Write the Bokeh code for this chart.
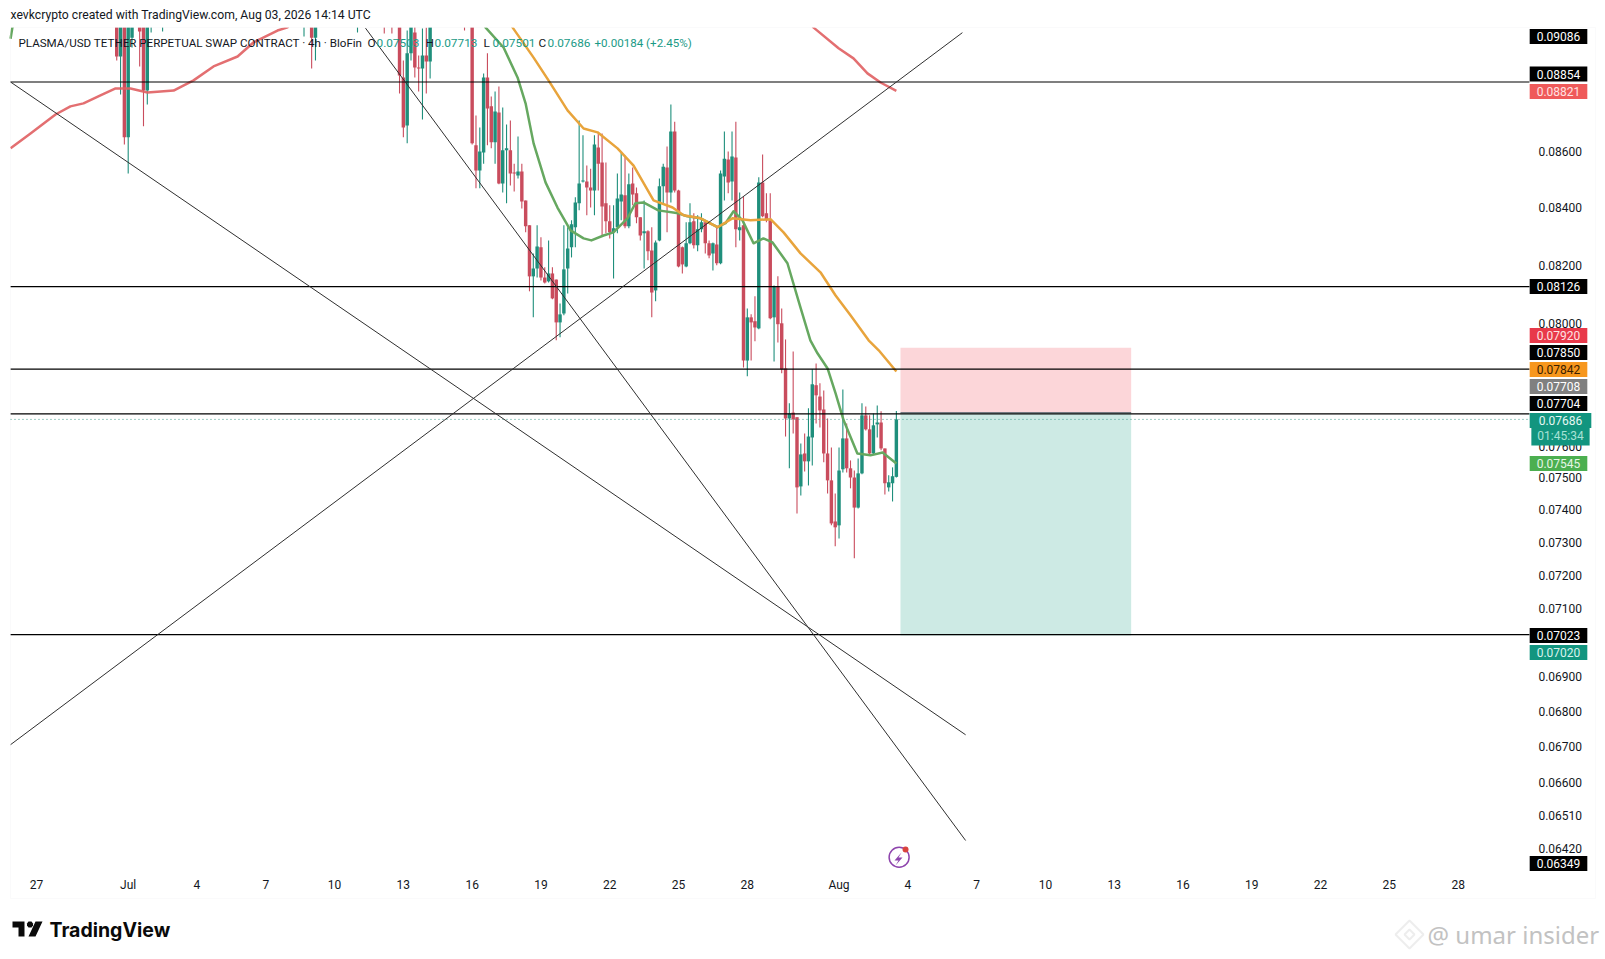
from bokeh.plotting import figure
from bokeh.models import (Range1d, FixedTicker, PrintfTickFormatter, Label, BoxAnnotation,
                          PolyAnnotation, ColumnDataSource)
from bokeh.embed import file_html
from bokeh.resources import INLINE

# ---- data -------------------------------------------------------------
# days are counted from 1 July (0 = 1 Jul, 31 = 1 Aug)
date_ticks = [-4, 0, 3, 6, 9, 12, 15, 18, 21, 24, 27, 31, 34, 37, 40, 43, 46, 49, 52, 55, 58]
date_labels = ["27", "Jul", "4", "7", "10", "13", "16", "19", "22", "25", "28", "Aug", "4", "7", "10", "13", "16", "19", "22", "25", "28"]
price_ticks = [0.086, 0.084, 0.082, 0.080, 0.076, 0.075, 0.074, 0.073, 0.072, 0.071, 0.069, 0.068, 0.067, 0.066, 0.0651, 0.0642]

early_days = [-0.5, -0.333, -0.167, 0.0, 0.167, 0.5, 0.667, 0.833, 1.0, 1.5,
              7.667, 8.0, 8.167, 10.0, 11.167, 11.5,
              11.833, 12.0, 12.167, 12.333, 12.5, 12.667, 12.833, 13.0, 13.167, 14.667]
early_open = [0.0920, 0.08949, 0.0920, 0.08651, 0.09020, 0.0920, 0.0915, 0.08822, 0.0912, 0.0912,
              0.0912, 0.0920, 0.09020, 0.0912, 0.0920, 0.0920,
              0.0915, 0.08871, 0.08694, 0.08961, 0.09040, 0.08908, 0.08904, 0.08953, 0.08930, 0.0920]
early_high = [0.0925, 0.0925, 0.0930, 0.0930, 0.0925, 0.0925, 0.0925, 0.0925, 0.0925, 0.0925,
              0.0925, 0.0925, 0.0925, 0.0925, 0.0925, 0.0925,
              0.0918, 0.08934, 0.09047, 0.0925, 0.09085, 0.08953, 0.09055, 0.09059, 0.0915, 0.0925]
early_low = [0.08934, 0.08808, 0.08625, 0.08521, 0.08983, 0.08912, 0.08691, 0.08771, 0.09040, 0.09043,
             0.09024, 0.08904, 0.08934, 0.09040, 0.09036, 0.09036,
             0.08811, 0.08651, 0.08629, 0.08934, 0.08871, 0.08819, 0.08716, 0.08811, 0.08867, 0.09047]
early_close = [0.08949, 0.0915, 0.08651, 0.0920, 0.0915, 0.09043, 0.08822, 0.0915, 0.0918, 0.0918,
               0.0918, 0.09020, 0.0915, 0.0918, 0.0912, 0.0912,
               0.08878, 0.08687, 0.08961, 0.0915, 0.08908, 0.08904, 0.08953, 0.08930, 0.09085, 0.0912]

# 4h bars from 16 Jul 00:00 to 3 Aug 12:00
bar_high = [0.09150, 0.08730, 0.08687, 0.08886, 0.08961, 0.08800, 0.08819, 0.08837, 0.08760, 0.08698,
            0.08712, 0.08556, 0.08654, 0.08556, 0.08425, 0.08338, 0.08240, 0.08338, 0.08296, 0.08192,
            0.08285, 0.08192, 0.08150, 0.08069, 0.08338, 0.08331, 0.08355, 0.08436, 0.08712, 0.08658,
            0.08549, 0.08538, 0.08658, 0.08665, 0.08665, 0.08560, 0.08408, 0.08408, 0.08521, 0.08596,
            0.08585, 0.08521, 0.08542, 0.08471, 0.08366, 0.08425, 0.08320, 0.08331, 0.08285, 0.08503,
            0.08556, 0.08618, 0.08771, 0.08708, 0.08463, 0.08264, 0.08348, 0.08415, 0.08380, 0.08373,
            0.08380, 0.08348, 0.08285, 0.08278, 0.08331, 0.08531, 0.08672, 0.08600, 0.08672, 0.08708,
            0.08453, 0.08439, 0.08052, 0.08032, 0.08093, 0.08507, 0.08589, 0.08450, 0.08450, 0.08130,
            0.08161, 0.08052, 0.07948, 0.07738, 0.07908, 0.07693, 0.07609, 0.07641, 0.07722, 0.07849,
            0.07868, 0.07803, 0.07780, 0.07689, 0.07596, 0.07451, 0.07596, 0.07783, 0.07673, 0.07555,
            0.07523, 0.07561, 0.07738, 0.07728, 0.07699, 0.07705, 0.07731, 0.07712, 0.07593, 0.07508,
            0.07533, 0.07713]
bar_open = [0.09100, 0.08622, 0.08531, 0.08596, 0.08871, 0.08764, 0.08633, 0.08741, 0.08485, 0.08604,
            0.08604, 0.08524, 0.08514, 0.08528, 0.08425, 0.08338, 0.08161, 0.08188, 0.08261, 0.08157,
            0.08144, 0.08171, 0.08150, 0.08005, 0.08035, 0.08188, 0.08261, 0.08331, 0.08415, 0.08492,
            0.08492, 0.08471, 0.08460, 0.08614, 0.08560, 0.08415, 0.08352, 0.08313, 0.08331, 0.08421,
            0.08443, 0.08334, 0.08485, 0.08450, 0.08366, 0.08310, 0.08317, 0.08250, 0.08113, 0.08285,
            0.08475, 0.08542, 0.08453, 0.08672, 0.08460, 0.08261, 0.08195, 0.08275, 0.08352, 0.08268,
            0.08324, 0.08348, 0.08275, 0.08240, 0.08271, 0.08206, 0.08510, 0.08571, 0.08492, 0.08578,
            0.08320, 0.08338, 0.07878, 0.08022, 0.08009, 0.07985, 0.08489, 0.08380, 0.08355, 0.08022,
            0.08127, 0.08002, 0.07852, 0.07689, 0.07708, 0.07693, 0.07473, 0.07577, 0.07552, 0.07628,
            0.07797, 0.07760, 0.07718, 0.07577, 0.07492, 0.07364, 0.07352, 0.07527, 0.07625, 0.07530,
            0.07501, 0.07407, 0.07514, 0.07699, 0.07654, 0.07577, 0.07670, 0.07676, 0.07593, 0.07470,
            0.07483, 0.07503]
bar_close = [0.08629, 0.08531, 0.08600, 0.08871, 0.08756, 0.08633, 0.08745, 0.08485, 0.08604, 0.08611,
             0.08521, 0.08521, 0.08528, 0.08421, 0.08334, 0.08161, 0.08188, 0.08264, 0.08157, 0.08140,
             0.08171, 0.08086, 0.08005, 0.08032, 0.08185, 0.08257, 0.08341, 0.08418, 0.08485, 0.08496,
             0.08471, 0.08460, 0.08625, 0.08556, 0.08404, 0.08352, 0.08313, 0.08327, 0.08432, 0.08446,
             0.08334, 0.08482, 0.08446, 0.08366, 0.08302, 0.08317, 0.08247, 0.08106, 0.08278, 0.08475,
             0.08545, 0.08453, 0.08672, 0.08460, 0.08195, 0.08202, 0.08275, 0.08348, 0.08268, 0.08324,
             0.08348, 0.08275, 0.08233, 0.08275, 0.08206, 0.08521, 0.08574, 0.08489, 0.08582, 0.08324,
             0.08331, 0.07878, 0.08022, 0.08005, 0.07988, 0.08489, 0.08369, 0.08355, 0.08019, 0.08127,
             0.07999, 0.07849, 0.07689, 0.07705, 0.07686, 0.07470, 0.07574, 0.07552, 0.07631, 0.07800,
             0.07764, 0.07715, 0.07577, 0.07492, 0.07358, 0.07346, 0.07523, 0.07625, 0.07530, 0.07501,
             0.07407, 0.07514, 0.07699, 0.07654, 0.07577, 0.07667, 0.07676, 0.07593, 0.07483, 0.07486,
             0.07505, 0.07686]
bar_low = [0.08625, 0.08468, 0.08468, 0.08556, 0.08622, 0.08611, 0.08556, 0.08482, 0.08453, 0.08415,
           0.08478, 0.08457, 0.08503, 0.08397, 0.08313, 0.08110, 0.08022, 0.08157, 0.08147, 0.08137,
           0.08140, 0.08083, 0.07945, 0.07955, 0.08029, 0.08103, 0.08226, 0.08261, 0.08390, 0.08489,
           0.08373, 0.08400, 0.08373, 0.08460, 0.08302, 0.08310, 0.08292, 0.08154, 0.08310, 0.08355,
           0.08327, 0.08327, 0.08408, 0.08345, 0.08285, 0.08188, 0.08216, 0.08022, 0.08076, 0.08282,
           0.08415, 0.08313, 0.08418, 0.08453, 0.08192, 0.08171, 0.08192, 0.08272, 0.08257, 0.08247,
           0.08313, 0.08240, 0.08223, 0.08181, 0.08199, 0.08203, 0.08425, 0.08450, 0.08425, 0.08261,
           0.08285, 0.07855, 0.07826, 0.07878, 0.07942, 0.07982, 0.08366, 0.08348, 0.08016, 0.07875,
           0.07938, 0.07836, 0.07631, 0.07530, 0.07641, 0.07389, 0.07445, 0.07520, 0.07476, 0.07539,
           0.07673, 0.07660, 0.07549, 0.07451, 0.07352, 0.07288, 0.07312, 0.07517, 0.07517, 0.07467,
           0.07251, 0.07404, 0.07511, 0.07650, 0.07571, 0.07574, 0.07628, 0.07587, 0.07448, 0.07457,
           0.07426, 0.07501]

ema_red_days = [-5.13, -4.26, -3.17, -2.52, -1.95, -1.21, -0.55, 0.10, 0.84, 1.98, 2.85, 3.72, 4.77, 5.46, 6.51, 6.95,
                7.5, 10, 20, 28, 29.5, 29.88, 30.98, 31.63, 32.24, 32.81, 33.5]
ema_red = [0.08611, 0.08665, 0.08734, 0.08764, 0.08775, 0.08804, 0.08830, 0.08830, 0.08815, 0.08822, 0.08860, 0.08912,
           0.08949, 0.09002, 0.09047, 0.09059, 0.0915, 0.0940, 0.0960, 0.0935, 0.0912, 0.09059, 0.08980, 0.08942,
           0.08886, 0.08852, 0.08821]
ema_green_days = [-5.13, -5.05, -4.5, 5, 14.5, 15.2, 15.58, 16.37, 16.98, 17.33, 17.68, 18.2, 18.72, 19.29, 19.86, 20.2,
                  20.73, 21.16, 21.77, 22.12, 22.47, 23.12, 23.99, 24.38, 24.96, 25.7, 26.05, 26.4, 26.79, 27.27,
                  27.7, 28.1, 28.75, 29.32, 29.75, 30.06, 30.5, 30.85, 31.2, 31.8, 32.37, 32.9, 33.5]
ema_green = [0.09016, 0.09059, 0.0925, 0.0990, 0.0930, 0.0915, 0.09059, 0.08983, 0.08871, 0.08775, 0.08629, 0.08489,
             0.08400, 0.08320, 0.08292, 0.08285, 0.08302, 0.08313, 0.08362, 0.08415, 0.08418, 0.08390, 0.08380,
             0.08369, 0.08362, 0.08331, 0.08345, 0.08387, 0.08355, 0.08275, 0.08292, 0.08278, 0.08206, 0.08055,
             0.07945, 0.07902, 0.07852, 0.07770, 0.07683, 0.07577, 0.07571, 0.07580, 0.07545]
ema_orange_days = [16.2, 16.76, 17.68, 18.33, 19.16, 19.86, 20.47, 21.34, 22.04, 22.91, 23.74, 24.22, 24.96, 25.7, 26.35,
                   27.14, 28.01, 28.58, 29.32, 30.19, 30.85, 31.5, 32.29, 32.73, 33.5]
ema_orange = [0.0925, 0.09059, 0.08945, 0.08860, 0.08749, 0.08683, 0.08669, 0.08611, 0.08549, 0.08425, 0.08400, 0.08373,
              0.08362, 0.08331, 0.08362, 0.08355, 0.08359, 0.08313, 0.08240, 0.08175, 0.08096, 0.08029, 0.07945,
              0.07912, 0.07842]

level_prices = [0.08854, 0.08126, 0.07850, 0.07704, 0.07023]
last_price = 0.07686
pane_left, pane_right, pane_top, pane_bottom = -5.133, 61.11, 0.09059, 0.06362
trend_days = [[-5.133, 36.38], [-5.133, 36.52], [10.35, 36.52]]
trend_prices = [[0.06706, 0.09039], [0.08854, 0.06734], [0.09056, 0.06442]]
pos_left, pos_right = 33.68, 43.74
pos_stop, pos_entry, pos_target = 0.07920, 0.07708, 0.07020

# price tags on the scale: text, fill, text colour, shown centre (page px)
tag_text = ["0.09086", "0.08854", "0.08821", "0.08126", "0.07920", "0.07850", "0.07842", "0.07708", "0.07704", "0.07545", "0.07023", "0.07020", "0.06349"]
tag_fill = ["#000000", "#000000", "#ef5a5a", "#000000", "#e8394a", "#000000", "#f7971e", "#808080", "#000000", "#4caf50", "#000000", "#12957f", "#000000"]
tag_color = ["#ffffff", "#ffffff", "#ffe3e3", "#ffffff", "#ffe3e3", "#ffffff", "#3a2000", "#ffffff", "#ffffff", "#e6f6e6", "#ffffff", "#d8f3ee", "#ffffff"]
tag_y = [36, 73.5, 91, 286, 335, 352, 369, 386, 403, 463, 635, 652, 863]

# ---- figure: the frame fills the canvas, the axes are pinned inside it ---
W, H = 1600, 955
sx = lambda X: X
sy = lambda Y: H - Y
# values above the visible pane are held just under the canvas top, behind the white strip
cap = lambda vals: [min(v, 0.0914) for v in vals]

p = figure(width=W, height=H, x_range=Range1d(-5.5691, 64.208), y_range=Range1d(0.061388, 0.091617),
           y_axis_type="log", y_axis_location="right", toolbar_location=None, output_backend="svg",
           background_fill_color="white", border_fill_color="white")
p.min_border_left = p.min_border_right = p.min_border_top = p.min_border_bottom = 0
p.outline_line_color = None
p.grid.visible = False

p.xaxis.ticker = FixedTicker(ticks=date_ticks)
p.xaxis.major_label_overrides = dict(zip(date_ticks, date_labels))
p.yaxis.ticker = FixedTicker(ticks=price_ticks)
p.yaxis.formatter = PrintfTickFormatter(format="%.5f")
for ax in (p.xaxis[0], p.yaxis[0]):
    ax.axis_line_color = None
    ax.major_tick_line_color = None
    ax.minor_tick_line_color = None
    ax.major_tick_out = 0
    ax.major_tick_in = 0
    ax.major_label_text_font = "Roboto"
    ax.major_label_text_font_size = "12px"
    ax.major_label_text_color = "#131722"
p.xaxis[0].major_label_standoff = 8
p.yaxis[0].major_label_standoff = 9
p.xaxis[0].fixed_location = pane_bottom
p.yaxis[0].fixed_location = pane_right

# position box
p.quad(left=[pos_left], right=[pos_right], top=[pos_stop], bottom=[pos_entry], fill_color="#fcd6d9", line_color=None)
p.quad(left=[pos_left], right=[pos_right], top=[pos_entry], bottom=[pos_target], fill_color="#cdeae4", line_color=None)
p.segment(x0=[pos_left], x1=[pos_right], y0=[pos_entry], y1=[pos_entry], line_color="#6b6f78", line_width=1)

# candles
days = early_days + [15 + i / 6 for i in range(len(bar_open))]
o = early_open + bar_open
h = early_high + bar_high
l = early_low + bar_low
c = early_close + bar_close
colors = ["#1f8f7c" if ci >= oi else "#c94c5d" for oi, ci in zip(o, c)]
src = ColumnDataSource(dict(x=days, l=l, h=cap(h), top=cap([max(a, b) for a, b in zip(o, c)]),
                            bottom=cap([min(a, b) for a, b in zip(o, c)]), color=colors))
p.segment(x0="x", x1="x", y0="l", y1="h", line_color="color", line_width=1.1, source=src)
p.vbar(x="x", width=0.15, top="top", bottom="bottom", fill_color="color", line_color=None, source=src)

# moving averages
p.line(ema_red_days, cap(ema_red), line_color="#e05f62", line_width=2.5, line_alpha=0.9, line_join="round")
p.line(ema_green_days, cap(ema_green), line_color="#66a860", line_width=2.5, line_join="round")
p.line(ema_orange_days, cap(ema_orange), line_color="#e8a43c", line_width=2.5, line_join="round")

# levels and trend lines
p.segment(x0=[pane_left] * 5, x1=[pane_right] * 5, y0=level_prices, y1=level_prices, line_color="#000000", line_width=1.2)
p.segment(x0=[pane_left], x1=[pane_right], y0=[last_price], y1=[last_price], line_color="#3f9c8b", line_width=1, line_dash="1 3")
for xs, ys in zip(trend_days, trend_prices):
    p.line(xs, ys, line_color="#2f2f2f", line_width=1)

# what rises above the pane stops at its top edge
p.quad(left=[-10], right=[70], top=[0.1], bottom=[pane_top], fill_color="white", line_color=None)

# pane border
p.add_layout(BoxAnnotation(left=sx(10), right=sx(1595), top=sy(27), bottom=sy(898), left_units="screen",
                           right_units="screen", top_units="screen", bottom_units="screen",
                           fill_alpha=0, line_color="#eef0f3", line_width=1))

def label(X, Y, text, color="#131722", size="12px", font="Roboto", align="left", style="normal", **kw):
    p.add_layout(Label(x=sx(X), y=sy(Y), x_units="screen", y_units="screen", text=text, text_color=color,
                       text_font=font, text_font_size=size, text_align=align, text_baseline="middle",
                       text_font_style=style, **kw))

label(10, 14.5, "xevkcrypto created with TradingView.com, Aug 03, 2026 14:14 UTC", size="12.2px")
label(18, 42, "PLASMA/USD TETHER PERPETUAL SWAP CONTRACT · 4h · BloFin", size="11.6px")
teal = "#1a9a86"
for X, letter, val in [(367, "O", "0.07503"), (425, "H", "0.07713"), (483, "L", "0.07501"), (538, "C", "0.07686")]:
    label(X, 42, letter, size="11.8px")
    label(X + 9, 42, val, color=teal, size="11.8px")
label(594, 42, "+0.00184 (+2.45%)", color=teal, size="11.6px")

# axis tags
for t, f, col, Y in zip(tag_text, tag_fill, tag_color, tag_y):
    label(1558, Y, t, color=col, align="center", background_fill_color=f, padding=(7, 3))
label(1560, 420, "0.07686", color="#e6f7f3", align="center", background_fill_color="#12957f", padding=(9, 3))
label(1560, 435, "01:45:34", color="#a9e2d6", align="center", background_fill_color="#12957f", padding=(6, 3))

# event icon
p.scatter([33.62], [0.06397], marker="circle", size=20, fill_color=None, line_color="#8e44ad", line_width=1.5)
p.scatter([33.9], [0.06418], marker="circle", size=6, fill_color="#d9443f", line_color=None)

def poly(points, **kw):
    p.add_layout(PolyAnnotation(xs=[sx(a) for a, _ in points], ys=[sy(b) for _, b in points], xs_units="screen",
                                ys_units="screen", **kw))
poly([(901, 852), (894, 860), (898, 860), (895, 865), (902, 857), (898, 857)], fill_color="#8e44ad", fill_alpha=1, line_color=None)

# TradingView mark
black = dict(fill_color="#0a0a0a", fill_alpha=1, line_color=None)
poly([(12, 921), (24, 921), (24, 936), (18, 936), (18, 927), (12, 927)], **black)
poly([(28, 921), (31, 921), (32.5, 923), (32.5, 925), (31, 927), (28, 927), (26.5, 925), (26.5, 923)], **black)
poly([(35, 921), (42, 921), (35, 936), (28, 936)], **black)
label(49, 929, "TradingView", color="#0a0a0a", size="19.5px", font="Inter", style="bold")

# watermark
wm = "#c2c2c2"
poly([(1409, 920), (1423, 934), (1409, 948), (1395, 934)], fill_alpha=0, line_color=wm, line_width=2)
poly([(1409, 929), (1414, 934), (1409, 939), (1404, 934)], fill_alpha=0, line_color=wm, line_width=2)
label(1427, 934, "@ umar insider", color=wm, size="24px", font="Noto Sans")

open("out.html", "w").write(file_html(p, INLINE))
